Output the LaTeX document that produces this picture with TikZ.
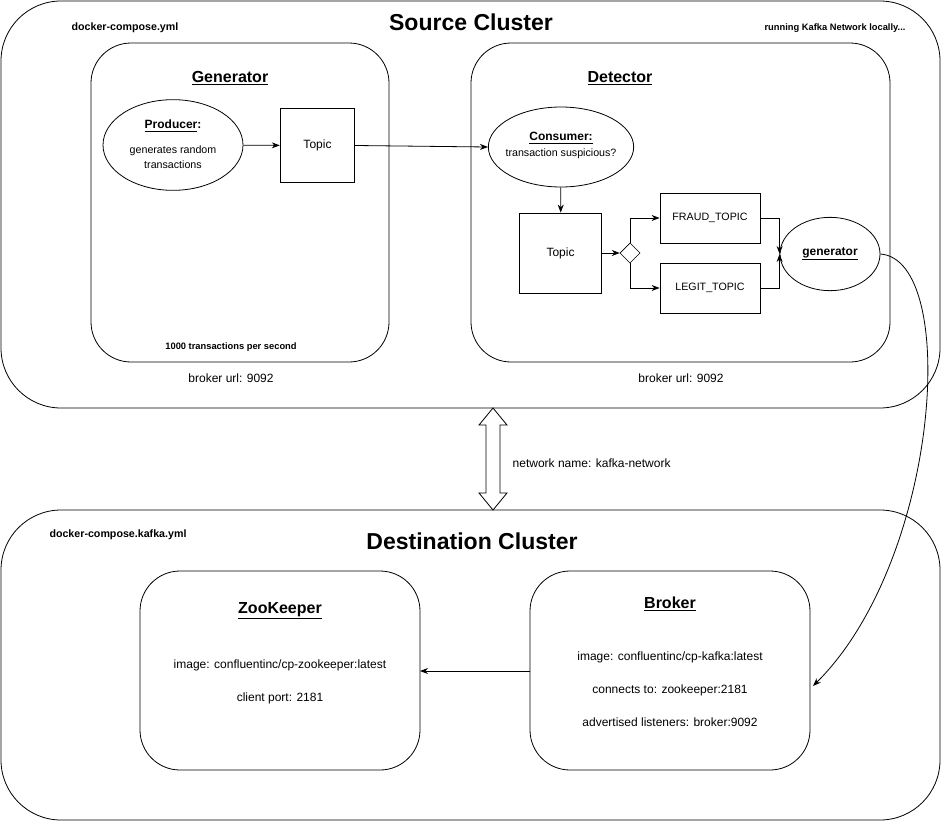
\documentclass[tikz,border=0pt]{standalone}
\usepackage{fontspec}
\setmainfont{Liberation Sans}
\usetikzlibrary{shapes.geometric}
\usetikzlibrary{positioning}
\usetikzlibrary{arrows.meta}
\usetikzlibrary{calc}

\tikzset{
  cluster/.style={draw, rounded corners=45pt, line width=0.6pt},
  service/.style={draw, rounded corners=30pt, line width=0.6pt},
  topicbox/.style={draw, rectangle, line width=0.6pt, font=\small},
  client/.style={draw, ellipse, line width=0.6pt, align=center},
  flow/.style={-{Stealth[length=6pt]}, line width=0.6pt},
}

\begin{document}
\begin{tikzpicture}[x=0.75pt, y=-0.75pt]
            \useasboundingbox (0,0) rectangle (941,821);
            % Source cluster
            \draw[cluster] (1,1) rectangle (940,408);
            \node[font=\LARGE\bfseries] (srctitle) at (471,22) {Source Cluster};
            \node[font=\footnotesize\bfseries] (srcfile) at (125,28) {docker-compose.yml};
            \node[font=\scriptsize\bfseries] (srcnote) at (835,28) {running Kafka Network locally...};

            % Generator
            \draw[service] (91,43) rectangle (389,362);
            \node[font=\large\bfseries] (gentitle) at (230,78) {\underline{Generator}};
            \node[client, minimum width=105pt, minimum height=68pt] (producer) at (173,145) {};
            \node[font=\small\bfseries] (prodlabel) at (173,126) {\underline{Producer}:};
            \node[font=\footnotesize, align=center] (prodtext) at (173,157) {generates random\\[2pt]transactions};
            \node[topicbox, minimum width=56pt, minimum height=56pt] (topicA) at (317.5,145.5) {Topic};
            \node[font=\scriptsize\bfseries] (rate) at (231,347) {1000 transactions per second};
            \node[font=\small] (urlA) at (231,378) {broker url: 9092};

            % Detector
            \draw[service] (471,43) rectangle (890,362);
            \node[font=\large\bfseries] (dettitle) at (620,78) {\underline{Detector}};
            \node[client, minimum width=109pt, minimum height=60pt] (consumer) at (561,147) {};
            \node[font=\small\bfseries] (conslabel) at (561,138) {\underline{Consumer:}};
            \node[font=\footnotesize] (constext) at (561,154) {transaction suspicious?};
            \node[topicbox, minimum width=61pt, minimum height=60pt] (topicB) at (560.5,253) {Topic};
            \node[draw, diamond, minimum width=15pt, minimum height=15pt, inner sep=0pt] (split) at (630,253) {};
            \node[topicbox, font=\footnotesize, minimum width=75pt, minimum height=37.5pt] (fraud) at (710,218) {FRAUD\_TOPIC};
            \node[topicbox, font=\footnotesize, minimum width=75pt, minimum height=37.5pt] (legit) at (710,288) {LEGIT\_TOPIC};
            \node[client, minimum width=75pt, minimum height=55pt, font=\small\bfseries] (outgen) at (830,254) {\underline{generator}};
            \node[font=\small] (urlB) at (681,378) {broker url: 9092};

            \draw[flow] (producer) -- (topicA);
            \draw[flow] (topicA.east) -- (consumer.west);
            \draw[flow] (consumer) -- (topicB);
            \draw[flow] (topicB) -- (split);
            \draw[flow] (split.north) |- (fraud.west);
            \draw[flow] (split.south) |- (legit.west);
            \draw[flow] (fraud.east) -| (outgen.west);
            \draw[flow] (legit.east) -| (outgen.west);

            % Network link
            \coordinate (nettop) at (493,408);
            \coordinate (netbot) at (493,510);
            \draw[line width=0.6pt, fill=white] (493,408) -- (507,425) -- (500,425) -- (500,493) -- (507,493) -- (493,510) -- (479,493) -- (486,493) -- (486,425) -- (479,425) -- cycle;
            \node[font=\small, anchor=west] (netname) at (508,463) {network name: kafka-network};

            % Destination cluster
            \draw[cluster] (1,510) rectangle (940,820);
            \node[font=\LARGE\bfseries] (dsttitle) at (472,541) {Destination Cluster};
            \node[font=\footnotesize\bfseries] (dstfile) at (118,535) {docker-compose.kafka.yml};

            % ZooKeeper
            \draw[service] (140,571) rectangle (420,770);
            \node[font=\large\bfseries] (zktitle) at (280,611) {\underline{ZooKeeper}};
            \node[font=\small] (zkimage) at (280,665) {image: confluentinc/cp-zookeeper:latest};
            \node[font=\small] (zkport) at (280,698) {client port: 2181};
            \coordinate (zkin) at (420,671);

            % Broker
            \draw[service] (530,571) rectangle (810,770);
            \node[font=\large\bfseries] (brtitle) at (670,604) {\underline{Broker}};
            \node[font=\small] (brimage) at (670,657) {image: confluentinc/cp-kafka:latest};
            \node[font=\small] (brconn) at (670,690) {connects to: zookeeper:2181};
            \node[font=\small] (brads) at (670,722) {advertised listeners: broker:9092};
            \coordinate (brout) at (530,671);
            \coordinate (brin) at (813,686);

            \draw[flow] (brout) -- (zkin);
            \draw[flow] (outgen.east) .. controls (960,260) and (940,560) .. (brin);
        \end{tikzpicture}
\end{document}
